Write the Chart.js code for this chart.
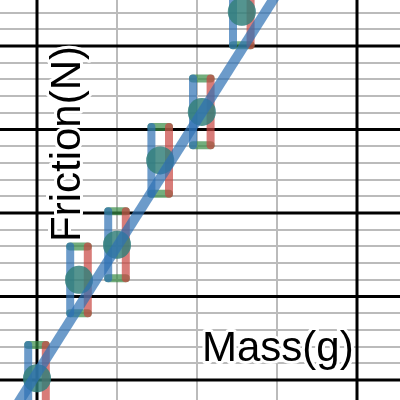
<!DOCTYPE html>
<html><head><script src="https://cdn.jsdelivr.net/npm/chart.js@4"></script>
<style>html,body{margin:0;padding:0;background:#fff}#w{width:400px;height:400px}</style></head>
<body><div id="w"><canvas id="c"></canvas></div>
<script>
const massX = [0, 0.525, 1.0, 1.54, 2.06, 2.56];
const frictionY = [0.02, 1.2, 1.62, 2.63, 3.21, 4.41];
const xErr = [0.11, 0.11, 0.11, 0.11, 0.11, 0.11];
const yErr = [0.4, 0.4, 0.4, 0.4, 0.4, 0.4];
const fitSlope = 1.515, fitIntercept = 0.082;
const fitX = [-0.6, 3.6];
const xTicks = [0, 1, 2, 3, 4];
const xMajor = [0, 4];
const yTicks = [0,0.2,0.4,0.6,0.8,1,1.2,1.4,1.6,1.8,2,2.2,2.4,2.6,2.8,3,3.2,3.4,3.6,3.8,4,4.2,4.4];
const yMajor = [0, 1, 2, 3, 4];

const BLUE='rgba(45,112,179,0.7)', RED='rgba(199,68,64,0.7)', GREEN='rgba(56,140,70,0.7)';
const ds = [];
massX.forEach((x,i)=>{
  const y=frictionY[i], ex=xErr[i], ey=yErr[i];
  const seg=(pts,c)=>ds.push({type:'line',data:pts,borderColor:c,borderWidth:8,borderCapStyle:'round',pointRadius:0,fill:false,order:5});
  seg([{x:x-ex,y:y-ey},{x:x-ex,y:y+ey}],BLUE);
  seg([{x:x+ex,y:y-ey},{x:x+ex,y:y+ey}],RED);
  seg([{x:x-ex,y:y+ey},{x:x+ex,y:y+ey}],GREEN);
  seg([{x:x-ex,y:y-ey},{x:x+ex,y:y-ey}],GREEN);
});
const pts = massX.map((x,i)=>({x,y:frictionY[i]}));
ds.push({type:'scatter',data:pts,pointRadius:14,backgroundColor:BLUE,borderWidth:0,order:3});
ds.push({type:'scatter',data:pts,pointRadius:14,backgroundColor:'rgba(56,140,70,0.45)',borderWidth:0,order:2});
ds.push({type:'line',data:fitX.map(x=>({x,y:fitSlope*x+fitIntercept})),borderColor:'rgba(45,112,179,0.7)',borderWidth:10,pointRadius:0,fill:false,order:1});

const major={id:'major',beforeDatasetsDraw(ch){
  const c=ch.ctx,a=ch.chartArea,sx=ch.scales.x,sy=ch.scales.y;
  c.save();c.strokeStyle='#000';c.lineWidth=3;c.beginPath();
  xMajor.forEach(v=>{const p=sx.getPixelForValue(v);c.moveTo(p,a.top);c.lineTo(p,a.bottom);});
  yMajor.forEach(v=>{const p=sy.getPixelForValue(v);c.moveTo(a.left,p);c.lineTo(a.right,p);});
  c.stroke();c.restore();}};
const labels={id:'labels',afterDatasetsDraw(ch){
  const c=ch.ctx;c.save();c.font='42px "Liberation Sans", Arial, sans-serif';
  c.lineWidth=6;c.strokeStyle='#fff';c.fillStyle='#000';c.lineJoin='round';
  c.textBaseline='alphabetic';c.textAlign='left';
  c.strokeText('Mass(g)',202,361);c.fillText('Mass(g)',202,361);
  c.translate(80,242);c.rotate(-Math.PI/2);
  c.strokeText('Friction(N)',0,0);c.fillText('Friction(N)',0,0);
  c.restore();}};

new Chart(document.getElementById('c'),{
  data:{datasets:ds},
  options:{responsive:true,maintainAspectRatio:false,animation:false,
    layout:{padding:0,autoPadding:false},
    plugins:{legend:{display:false},tooltip:{enabled:false}},
    scales:{
      x:{type:'linear',min:-0.4625,max:4.5375,
        afterBuildTicks:s=>{s.ticks=xTicks.map(v=>({value:v}));},
        ticks:{display:false,padding:0},border:{display:false},
        grid:{drawTicks:false,tickLength:0,color:'#bbb',lineWidth:2}},
      y:{type:'linear',min:-0.2395,max:4.551,
        afterBuildTicks:s=>{s.ticks=yTicks.map(v=>({value:v}));},
        ticks:{display:false,padding:0},border:{display:false},
        grid:{drawTicks:false,tickLength:0,color:'#bbb',lineWidth:2}}
    }},
  plugins:[major,labels]
});
</script></body></html>
